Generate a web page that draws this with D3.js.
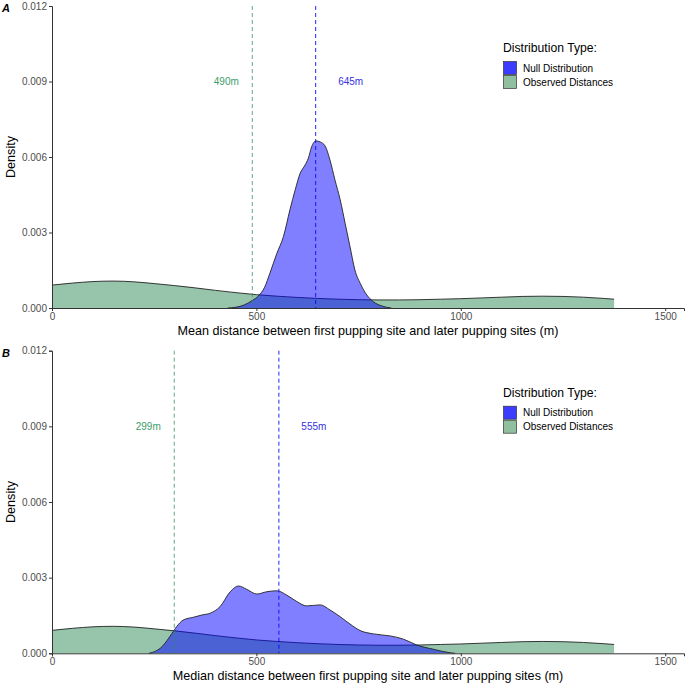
<!DOCTYPE html>
<html>
<head>
<meta charset="utf-8">
<script src="https://cdn.jsdelivr.net/npm/d3@7"></script>
<style>
  body { margin: 0; background: #fff; }
  svg { font-family: "Liberation Sans", Arial, sans-serif; }
</style>
</head>
<body>
<div id="chart"></div>
<script>
// observed distances (same in both panels): [metres, density]
const observed = [[0,0.00091],[50,0.00099],[100,0.00105],[150,0.00107],[200,0.00104],[250,0.00097],
  [300,0.00089],[350,0.0008],[400,0.0007],[450,0.00061],[500,0.00053],[550,0.00047],[600,0.00042],
  [650,0.00038],[700,0.00035],[750,0.00033],[800,0.00032],[850,0.00032],[900,0.00033],[950,0.00035],
  [1000,0.00037],[1050,0.0004],[1100,0.00043],[1150,0.00046],[1200,0.00047],[1250,0.00046],
  [1300,0.00043],[1350,0.00038],[1375,0.00035]];

// null distribution of the mean
const nullMean = [[430,0],[450,0.00003],[470,0.00012],[490,0.0003],[505,0.00048],[520,0.00082],
  [533,0.00138],[550,0.00217],[566,0.00283],[582,0.0039],[595,0.0047],[607,0.00535],[619,0.00568],
  [627,0.00595],[635,0.0064],[645,0.00664],[656,0.0066],[668,0.00644],[680,0.00588],[692,0.0051],
  [705,0.0043],[717,0.00337],[729,0.00244],[741,0.00151],[754,0.00098],[770,0.00052],[786,0.00025],
  [807,0.00008],[830,0]];

// null distribution of the median
const nullMedian = [[237,0],[255,0.0001],[269,0.00026],[281,0.0005],[294,0.0008],[305,0.00106],
  [321,0.00132],[346,0.00143],[367,0.00152],[387,0.00159],[411,0.00185],[436,0.00244],[456,0.00267],
  [476,0.00254],[501,0.00235],[525,0.00244],[550,0.00248],[574,0.00231],[599,0.00205],[623,0.00188],
  [656,0.00192],[680,0.00172],[705,0.00145],[729,0.00116],[754,0.0009],[786,0.00077],[827,0.00069],
  [860,0.00056],[892,0.00033],[933,0.00016],[974,0.00002],[986,0]];

const observedMean = 490, nullMeanValue = 645;
const observedMedian = 299, nullMedianValue = 555;

const xTicks = [0, 500, 1000, 1500];
const yTicks = [0, 0.003, 0.006, 0.009, 0.012];
const legendLabels = ["Null Distribution", "Observed Distances"];

const W = 685, H = 685;
const green = "#2e8b57", greenText = "#3a9d6c";
const blue = "#0000ff", blueText = "#3333e0";

const svg = d3.select("#chart").append("svg")
  .attr("width", W).attr("height", H);

const x = d3.scaleLinear().domain([0, 1546]).range([52, 684]);

function panel(top, bottom, tag, nullData, obsVal, nullVal, title) {
  const y = d3.scaleLinear().domain([0, 0.012]).range([bottom, top]);
  const g = svg.append("g");

  const area = d3.area().x(d => x(d[0])).y0(y(0)).y1(d => y(d[1])).curve(d3.curveMonotoneX);
  const line = d3.line().x(d => x(d[0])).y(d => y(d[1])).curve(d3.curveMonotoneX);

  // observed first, null drawn over it
  g.append("path").datum(observed).attr("d", area)
    .attr("fill", green).attr("fill-opacity", 0.5);
  g.append("path").datum(observed).attr("d", line)
    .attr("fill", "none").attr("stroke", "#222").attr("stroke-width", 0.9);
  g.append("path").datum(nullData).attr("d", area)
    .attr("fill", blue).attr("fill-opacity", 0.5);
  g.append("path").datum(nullData).attr("d", line)
    .attr("fill", "none").attr("stroke", "#222").attr("stroke-width", 0.9);

  // dashed reference lines
  [[obsVal, green], [nullVal, blue]].forEach(([v, c]) => {
    g.append("line")
      .attr("x1", x(v)).attr("x2", x(v))
      .attr("y1", top).attr("y2", bottom)
      .attr("stroke", c).attr("stroke-opacity", c === green ? 0.75 : 0.85)
      .attr("stroke-width", 1).attr("stroke-dasharray", "4,3");
  });
  g.append("text").attr("x", x(obsVal) - 26).attr("y", y(0.009))
    .attr("text-anchor", "middle").attr("dominant-baseline", "central")
    .attr("font-size", 10).attr("fill", greenText).text(obsVal + "m");
  g.append("text").attr("x", x(nullVal) + 35).attr("y", y(0.009))
    .attr("text-anchor", "middle").attr("dominant-baseline", "central")
    .attr("font-size", 10).attr("fill", blueText).text(nullVal + "m");

  // axes
  const xa = g.append("g").attr("transform", `translate(0,${bottom})`)
    .call(d3.axisBottom(x).tickValues(xTicks).tickSize(3).tickPadding(2).tickFormat(d3.format("d")));
  const ya = g.append("g").attr("transform", `translate(52,0)`)
    .call(d3.axisLeft(y).tickValues(yTicks).tickSize(3).tickPadding(2).tickFormat(d3.format(".3f")));
  [xa, ya].forEach(a => {
    a.select(".domain").attr("stroke", "#333").attr("stroke-width", 1);
    a.selectAll(".tick line").attr("stroke", "#333");
    a.selectAll(".tick text").attr("fill", "#4d4d4d").attr("font-size", 10)
      .attr("font-family", "Liberation Sans, Arial, sans-serif");
  });

  g.append("text").attr("x", (52 + 684) / 2).attr("y", bottom + 26.5)
    .attr("text-anchor", "middle").attr("font-size", 12.6).attr("fill", "#000").text(title);
  g.append("text").attr("transform", `translate(15,${(top + bottom) / 2}) rotate(-90)`)
    .attr("text-anchor", "middle").attr("font-size", 12.6).attr("fill", "#000").text("Density");
  g.append("text").attr("x", 2).attr("y", top + 6)
    .attr("font-size", 11).attr("font-weight", "bold").attr("font-style", "italic").text(tag);

  // legend
  const lg = g.append("g").attr("transform", `translate(503,${top})`);
  lg.append("text").attr("x", 0).attr("y", 46).attr("font-size", 12.2).text("Distribution Type:");
  const keyFill = ["#3c3cff", "#8fbf9f"];
  legendLabels.forEach((lab, i) => {
    lg.append("rect").attr("x", 0.5).attr("y", 55.5 + i * 14).attr("width", 13).attr("height", 13)
      .attr("fill", keyFill[i]).attr("stroke", "#333").attr("stroke-width", 0.7);
    lg.append("text").attr("x", 20).attr("y", 62 + i * 14).attr("dominant-baseline", "central")
      .attr("font-size", 10).text(lab);
  });
}

panel(6, 308, "A", nullMean, observedMean, nullMeanValue,
  "Mean distance between first pupping site and later pupping sites (m)");
panel(350.7, 653.3, "B", nullMedian, observedMedian, nullMedianValue,
  "Median distance between first pupping site and later pupping sites (m)");
</script>
</body>
</html>
